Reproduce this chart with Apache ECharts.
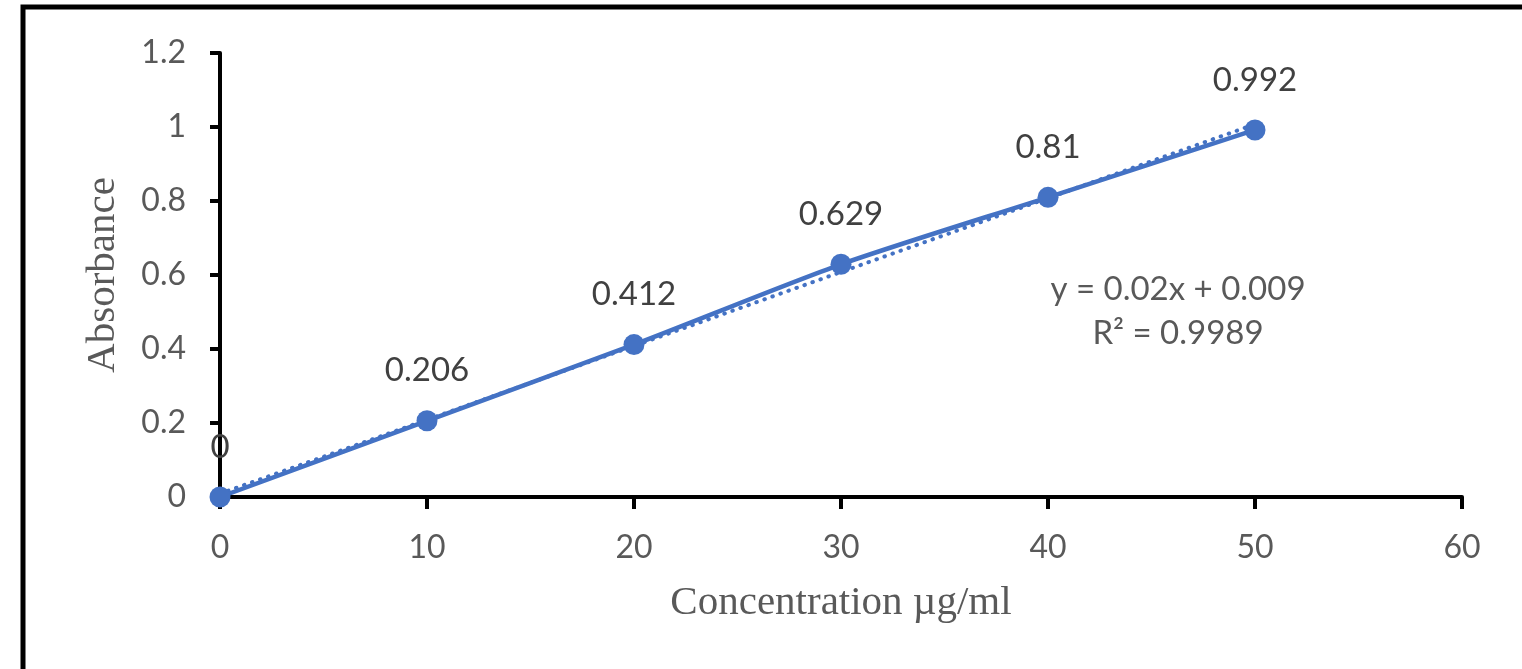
<!DOCTYPE html>
<html>
<head>
<meta charset="utf-8">
<script src="https://cdn.jsdelivr.net/npm/echarts@6/dist/echarts.min.js"></script>
<style>
html,body{margin:0;padding:0;background:#fff;}
#chart{width:1522px;height:669px;}
</style>
</head>
<body>
<div id="chart"></div>
<script>
var concentration = [0, 10, 20, 30, 40, 50];
var absorbance = [0, 0.206, 0.412, 0.629, 0.81, 0.992];
var trendX = [0, 50];
var trendY = [0.009, 1.0075];
var equationText = 'y = 0.02x + 0.009';
var r2Text = 'R² = 0.9989';
var xTitle = 'Concentration µg/ml';
var yTitle = 'Absorbance';

var BLUE = '#4472C4';
var chart = echarts.init(document.getElementById('chart'));
var pts = concentration.map(function (x, i) { return [x, absorbance[i]]; });
var trend = trendX.map(function (x, i) { return [x, trendY[i]]; });

chart.setOption({
  animation: false,
  backgroundColor: '#fff',
  grid: { left: 220, right: 60, top: 53, bottom: 172 },
  xAxis: {
    type: 'value', min: 0, max: 60, interval: 10,
    name: xTitle, nameLocation: 'middle', nameGap: 86,
    nameTextStyle: { fontFamily: 'Liberation Serif', fontSize: 41, color: '#595959' },
    axisLine: { show: true, onZero: false, lineStyle: { color: '#000', width: 4 } },
    axisTick: { show: true, inside: false, length: 12, lineStyle: { color: '#000', width: 4 } },
    axisLabel: { fontFamily: 'Lato', fontSize: 32, color: '#595959', margin: 35 },
    splitLine: { show: false }
  },
  yAxis: {
    type: 'value', min: 0, max: 1.2, interval: 0.2,
    name: yTitle, nameLocation: 'middle', nameGap: 96, nameRotate: 90,
    nameTextStyle: { fontFamily: 'Liberation Serif', fontSize: 41, color: '#595959' },
    axisLine: { show: true, onZero: false, lineStyle: { color: '#000', width: 4 } },
    axisTick: { show: true, inside: false, length: 10, lineStyle: { color: '#000', width: 4 } },
    axisLabel: { fontFamily: 'Lato', fontSize: 32, color: '#595959', margin: 34,
      formatter: function (v) { return String(Math.round(v * 10) / 10); } },
    splitLine: { show: false }
  },
  series: [
    {
      type: 'line', data: trend, symbol: 'none', silent: true,
      lineStyle: { color: BLUE, width: 4, type: [0.5, 8], cap: 'round' },
      z: 1
    },
    {
      type: 'line', data: pts, smooth: 0.25,
      symbol: 'circle', symbolSize: 21,
      itemStyle: { color: BLUE },
      lineStyle: { color: BLUE, width: 4.5 },
      label: {
        show: true, position: 'top', distance: 23,
        fontFamily: 'Lato', fontSize: 33, color: '#404040',
        formatter: function (p) { return String(p.value[1]); }
      },
      z: 3
    }
  ],
  graphic: [
    { type: 'rect', shape: { x: 23, y: 7, width: 1600, height: 800 },
      style: { fill: 'none', stroke: '#000', lineWidth: 5 }, silent: true },
    { type: 'text', x: 1178, y: 289,
      style: { text: equationText, fontFamily: 'Lato', fontSize: 33, fill: '#595959', align: 'center', verticalAlign: 'middle' } },
    { type: 'text', x: 1178, y: 333,
      style: { text: r2Text, fontFamily: 'Lato', fontSize: 33, fill: '#595959', align: 'center', verticalAlign: 'middle' } }
  ]
});
</script>
</body>
</html>
